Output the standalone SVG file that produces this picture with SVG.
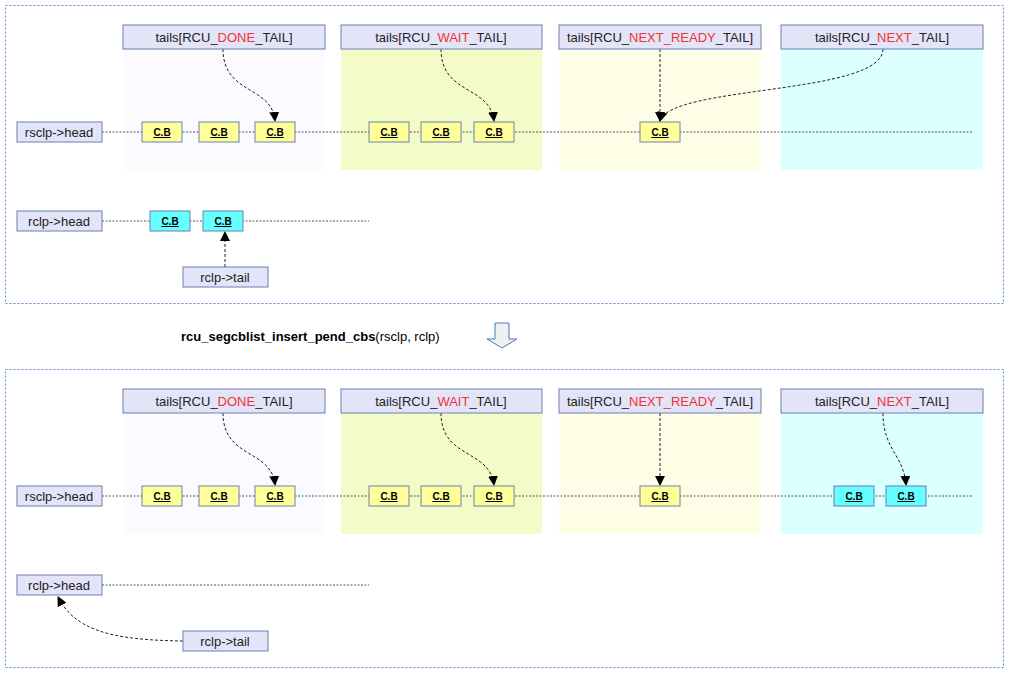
<svg xmlns="http://www.w3.org/2000/svg" width="1012" height="674" viewBox="0 0 1012 674">
<defs>
<marker id="ah" markerWidth="10" markerHeight="10" refX="9" refY="5" orient="auto" markerUnits="userSpaceOnUse"><path d="M0,0 L10,5 L0,10 z" fill="#000"/></marker>
<style>
.panel{fill:none;stroke:#5a8ad0;stroke-width:1;stroke-dasharray:2,2}
.hd{fill:#e4e4f8;stroke:#6a80b0;stroke-width:1}
.cb{fill:#ffff99;stroke:#6a80b0;stroke-width:1}
.cbc{fill:#66ffff;stroke:#6a80b0;stroke-width:1}
.t{font-family:"Malgun Gothic","Liberation Sans",sans-serif;font-size:13px;fill:#222;text-anchor:middle}
.tc{font-family:"Liberation Sans",sans-serif;font-size:10px;font-weight:bold;text-decoration:underline;fill:#000;text-anchor:middle}
.r{fill:#ee3333}
.ln{fill:none;stroke:#555;stroke-width:1;stroke-dasharray:2,1.5}
.ar{fill:none;stroke:#222;stroke-width:1;stroke-dasharray:3,2;marker-end:url(#ah)}
</style>
</defs>
<rect x="0" y="0" width="1012" height="674" fill="#fff"/>
<rect class="panel" x="5.5" y="5.5" width="998" height="298"/>
<rect class="panel" x="5.5" y="369.5" width="998" height="298"/>
<g id="regions">
<rect x="123" y="49" width="202" height="121" fill="#fbfbff"/>
<rect x="341" y="49" width="201" height="121" fill="#f3fcc8"/>
<rect x="559" y="49" width="202" height="121" fill="#fefee6"/>
<rect x="781" y="49" width="202" height="121" fill="#dcffff"/>
<rect x="123" y="413" width="202" height="121" fill="#fbfbff"/>
<rect x="341" y="413" width="201" height="121" fill="#f3fcc8"/>
<rect x="559" y="413" width="202" height="121" fill="#fefee6"/>
<rect x="781" y="413" width="202" height="121" fill="#dcffff"/>
</g>
<g id="connectors">
<path class="ln" d="M102,132 H972"/>
<path class="ln" d="M102,221 H369"/>
<path class="ln" d="M102,496 H972"/>
<path class="ln" d="M102,585 H369"/>
<path class="ar" d="M223,49 C223,95 272,85 275,121"/>
<path class="ar" d="M441,49 C441,95 490,85 494,121"/>
<path class="ar" d="M660,49 V121"/>
<path class="ar" d="M883,49 C883,95 670,85 660,121"/>
<path class="ar" d="M225,267 V232"/>
<path class="ar" d="M223,413 C223,459 272,449 275,485"/>
<path class="ar" d="M441,413 C441,459 490,449 494,485"/>
<path class="ar" d="M660,413 V485"/>
<path class="ar" d="M883,413 C883,450 904,455 906,485"/>
<path class="ar" d="M183,641 C110,640 75,630 58,597"/>
</g>
<g id="top-headers">
<rect class="hd" x="123" y="25" width="202" height="24"/><text class="t" x="224" y="42">tails[RCU_<tspan class="r">DONE</tspan>_TAIL]</text>
<rect class="hd" x="341" y="25" width="201" height="24"/><text class="t" x="441" y="42">tails[RCU_<tspan class="r">WAIT</tspan>_TAIL]</text>
<rect class="hd" x="559" y="25" width="202" height="24"/><text class="t" x="660" y="42">tails[RCU_<tspan class="r">NEXT_READY</tspan>_TAIL]</text>
<rect class="hd" x="781" y="25" width="202" height="24"/><text class="t" x="882" y="42">tails[RCU_<tspan class="r">NEXT</tspan>_TAIL]</text>
</g>
<g id="bottom-headers">
<rect class="hd" x="123" y="389" width="202" height="24"/><text class="t" x="224" y="406">tails[RCU_<tspan class="r">DONE</tspan>_TAIL]</text>
<rect class="hd" x="341" y="389" width="201" height="24"/><text class="t" x="441" y="406">tails[RCU_<tspan class="r">WAIT</tspan>_TAIL]</text>
<rect class="hd" x="559" y="389" width="202" height="24"/><text class="t" x="660" y="406">tails[RCU_<tspan class="r">NEXT_READY</tspan>_TAIL]</text>
<rect class="hd" x="781" y="389" width="202" height="24"/><text class="t" x="882" y="406">tails[RCU_<tspan class="r">NEXT</tspan>_TAIL]</text>
</g>
<g id="top-nodes">
<rect class="hd" x="17" y="122" width="85" height="20"/><text class="t" x="59" y="137">rsclp-&gt;head</text>
<rect class="hd" x="17" y="211" width="85" height="20"/><text class="t" x="59" y="226">rclp-&gt;head</text>
<rect class="hd" x="183" y="267" width="85" height="20"/><text class="t" x="225" y="282">rclp-&gt;tail</text>
<rect class="cb" x="142" y="122" width="40" height="20"/><text class="tc" x="162" y="136">C.B</text>
<rect class="cb" x="199" y="122" width="40" height="20"/><text class="tc" x="219" y="136">C.B</text>
<rect class="cb" x="255" y="122" width="40" height="20"/><text class="tc" x="275" y="136">C.B</text>
<rect class="cb" x="369" y="122" width="40" height="20"/><text class="tc" x="389" y="136">C.B</text>
<rect class="cb" x="421" y="122" width="40" height="20"/><text class="tc" x="441" y="136">C.B</text>
<rect class="cb" x="474" y="122" width="40" height="20"/><text class="tc" x="494" y="136">C.B</text>
<rect class="cb" x="640" y="122" width="40" height="20"/><text class="tc" x="660" y="136">C.B</text>
<rect class="cbc" x="150" y="211" width="40" height="20"/><text class="tc" x="170" y="225">C.B</text>
<rect class="cbc" x="203" y="211" width="40" height="20"/><text class="tc" x="223" y="225">C.B</text>
</g>
<g id="bottom-nodes">
<rect class="hd" x="17" y="486" width="85" height="20"/><text class="t" x="59" y="501">rsclp-&gt;head</text>
<rect class="hd" x="17" y="575" width="85" height="20"/><text class="t" x="59" y="590">rclp-&gt;head</text>
<rect class="hd" x="183" y="631" width="85" height="20"/><text class="t" x="225" y="646">rclp-&gt;tail</text>
<rect class="cb" x="142" y="486" width="40" height="20"/><text class="tc" x="162" y="500">C.B</text>
<rect class="cb" x="199" y="486" width="40" height="20"/><text class="tc" x="219" y="500">C.B</text>
<rect class="cb" x="255" y="486" width="40" height="20"/><text class="tc" x="275" y="500">C.B</text>
<rect class="cb" x="369" y="486" width="40" height="20"/><text class="tc" x="389" y="500">C.B</text>
<rect class="cb" x="421" y="486" width="40" height="20"/><text class="tc" x="441" y="500">C.B</text>
<rect class="cb" x="474" y="486" width="40" height="20"/><text class="tc" x="494" y="500">C.B</text>
<rect class="cb" x="640" y="486" width="40" height="20"/><text class="tc" x="660" y="500">C.B</text>
<rect class="cbc" x="834" y="486" width="40" height="20"/><text class="tc" x="854" y="500">C.B</text>
<rect class="cbc" x="886" y="486" width="40" height="20"/><text class="tc" x="906" y="500">C.B</text>
</g>
<g id="title">
<text x="181" y="341" font-family="'Liberation Sans',sans-serif" font-size="13" fill="#000"><tspan font-weight="bold">rcu_segcblist_insert_pend_cbs</tspan>(rsclp, rclp)</text>
<path d="M495,323 H509 V339 H517 L502,348 L487,339 H495 Z" fill="#f0f0f0" stroke="#4a7ab8" stroke-width="1"/>
</g>
</svg>
